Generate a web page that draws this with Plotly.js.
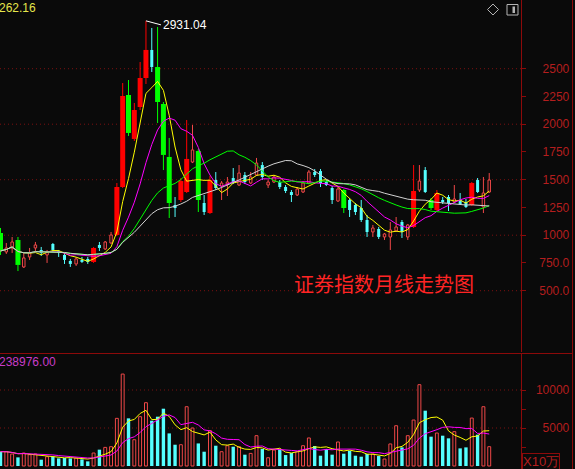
<!DOCTYPE html>
<html><head><meta charset="utf-8">
<script src="https://cdn.plot.ly/plotly-3.0.1.min.js"></script>
<style>html,body{margin:0;padding:0;background:#0a0a0a;overflow:hidden}#c{width:575px;height:469px}</style>
</head><body><div id="c"></div>
<script>
// ---- data (monthly index K-line) ----
const open = [1020,849,885,957,714,804,885,867,822,921,
  858,822,768,741,777,786,759,912,876,930,
  1002,1434,2263,1867,2155,2416,2669,2515,2182,1705,
  1272,1317,1389,1659,1759,1290,1200,1497,1443,1461,
  1515,1452,1542,1470,1542,1632,1452,1479,1479,1434,
  1389,1362,1389,1470,1569,1578,1479,1425,1308,1407,
  1317,1272,1245,1137,1029,1056,984,984,1038,1119,
  984,1074,1407,1587,1317,1227,1317,1344,1299,1317,
  1299,1272,1497,1254,1389];
const high = [1065,930,984,984,840,885,939,894,867,930,
  867,840,786,804,804,804,894,939,948,1029,
  1470,2371,2398,2191,2560,2931.04,2867,2876,2200,1876,
  1344,1515,2038,1993,1777,1362,1533,1569,1488,1524,
  1605,1632,1569,1569,1696,1659,1497,1542,1497,1452,
  1407,1434,1488,1587,1596,1596,1497,1443,1443,1416,
  1335,1290,1317,1182,1092,1074,1020,1119,1164,1137,
  1101,1632,1632,1614,1335,1407,1344,1362,1452,1380,
  1326,1479,1515,1524,1560];
const low = [822,831,840,677,705,777,849,813,750,849,
  804,741,714,723,750,741,750,858,867,921,
  993,1425,1894,1849,2128,2362,2470,2011,1587,1155,
  1164,1299,1380,1650,1209,1182,1191,1407,1317,1353,
  1461,1443,1461,1461,1533,1497,1425,1470,1416,1380,
  1299,1353,1380,1461,1524,1434,1443,1281,1299,1200,
  1164,1182,1119,984,984,966,957,867,1029,975,
  957,1065,1389,1380,1227,1218,1281,1218,1290,1272,
  1245,1263,1380,1200,1380];
const close = [858,885,939,732,795,840,912,840,849,867,
  840,777,741,786,759,759,885,885,939,1002,
  1434,2254,1921,2128,2416,2669,2515,2200,1723,1290,
  1245,1488,1687,1768,1317,1209,1497,1425,1470,1479,
  1479,1560,1479,1524,1650,1524,1479,1524,1434,1398,
  1362,1416,1470,1569,1542,1470,1452,1317,1416,1245,
  1227,1209,1137,1029,1065,984,1011,1047,1074,1029,
  1092,1398,1488,1389,1245,1380,1299,1290,1326,1281,
  1254,1470,1389,1380,1497];
const volume = [1880,1880,1580,1135,1710,1490,1580,830,1225,1265,
  1000,1050,1000,1050,870,610,1710,2150,2450,2540,
  6270,12100,6270,3460,6490,8330,5960,6490,7540,4290,
  2800,2800,7800,5000,2970,1880,4650,2670,1880,2670,
  2540,2540,1490,1660,3990,2240,1090,2100,2240,1440,
  1710,1880,2670,3690,2630,1355,2240,1490,3160,1620,
  2010,1355,1225,1580,1580,1310,920,2900,5300,2450,
  3990,6050,10700,7280,3860,4340,3990,3640,4520,2320,
  2450,6310,4120,7800,2540];
const priceTickVals = [500,750,1000,1250,1500,1750,2000,2250,2500];
const priceTickText = ['500.0','750.0','1000','1250','1500','1750','2000','2250','2500'];
const volTickVals = [2500,5000,7500,10000];
const volTickText = ['','5000','','10000'];
const priceGrid = [500,1000,1500,2000,2500];
const volGrid = [5000,10000];
const maPeriods = [5,10,20,30];
const volMaPeriods = [5,10];

// ---- styling ----
const BG = '#0a0a0a';
const AX = '#8c0a0a';
const LBL = '#b41e1e';
const FONT = 'Liberation Sans, Arial, sans-serif';
const W = 575, H = 469;

function ma(a, n) {
  return a.map((_, i) => {
    const s = Math.max(0, i - n + 1); let t = 0;
    for (let k = s; k <= i; k++) t += a[k];
    return t / (i - s + 1);
  });
}
const idx = close.map((_, i) => i);
const isUp = i => close[i] >= open[i];
const isBig = i => Math.abs(close[i] / (i > 0 ? close[i - 1] : open[0]) - 1) >= 0.10;

const groups = [
  {sel: i => isUp(i) && isBig(i), width: 0.86, fill: '#ff0000', line: '#ff0000', lw: 0, wick: '#ff0000'},
  {sel: i => isUp(i) && !isBig(i), width: 0.42, fill: BG, line: '#f04848', lw: 1, wick: '#f04848'},
  {sel: i => !isUp(i) && isBig(i), width: 0.86, fill: '#00ff00', line: '#00ff00', lw: 0, wick: '#00ff00'},
  {sel: i => !isUp(i) && !isBig(i), width: 0.52, fill: '#54ffff', line: '#54ffff', lw: 0, wick: '#54ffff'}
];

const traces = [];
groups.forEach(g => {
  const ids = idx.filter(g.sel);
  const wx = [], wy = [];
  ids.forEach(i => {
    const top = Math.max(open[i], close[i]), bot = Math.min(open[i], close[i]);
    wx.push(i, i, null, i, i, null);
    wy.push(high[i], top, null, bot, low[i], null);
  });
  traces.push({type: 'scatter', mode: 'lines', x: wx, y: wy, xaxis: 'x', yaxis: 'y',
    line: {color: g.wick, width: 1}, hoverinfo: 'skip', connectgaps: false});
  traces.push({type: 'bar', x: ids,
    base: ids.map(i => Math.min(open[i], close[i])),
    y: ids.map(i => Math.max(Math.abs(close[i] - open[i]), 9)),
    width: g.width, xaxis: 'x', yaxis: 'y',
    marker: {color: g.fill, line: {color: g.line, width: g.lw}}, hoverinfo: 'skip'});
});

const maColors = ['#ffff00', '#ff00ff', '#00ff00', '#d2d2d2'];
maPeriods.forEach((n, k) => {
  traces.push({type: 'scatter', mode: 'lines', x: idx, y: ma(close, n), xaxis: 'x', yaxis: 'y',
    line: {color: maColors[k], width: 1}, hoverinfo: 'skip'});
});

// volume
const upIds = idx.filter(i => isUp(i)), dnIds = idx.filter(i => !isUp(i));
traces.push({type: 'bar', x: upIds, y: upIds.map(i => volume[i]), width: 0.5, xaxis: 'x', yaxis: 'y2',
  marker: {color: BG, line: {color: '#f04848', width: 1}}, hoverinfo: 'skip'});
traces.push({type: 'bar', x: dnIds, y: dnIds.map(i => volume[i]), width: 0.58, xaxis: 'x', yaxis: 'y2',
  marker: {color: '#54ffff', line: {width: 0}}, hoverinfo: 'skip'});
const volMaColors = ['#ffff00', '#ff00ff'];
volMaPeriods.forEach((n, k) => {
  traces.push({type: 'scatter', mode: 'lines', x: idx, y: ma(volume, n), xaxis: 'x', yaxis: 'y2',
    line: {color: volMaColors[k], width: 1}, hoverinfo: 'skip'});
});
// label-only axes need a (non-drawing) trace to exist
traces.push({type: 'scatter', mode: 'none', x: [0], y: [close[0]], xaxis: 'x', yaxis: 'y3', hoverinfo: 'skip'});
traces.push({type: 'scatter', mode: 'none', x: [0], y: [volume[0]], xaxis: 'x', yaxis: 'y4', hoverinfo: 'skip'});

const px = x => x / W, py = y => 1 - y / H;
const shapes = [];
priceGrid.forEach(v => shapes.push({type: 'line', xref: 'x domain', x0: 0, x1: 1, yref: 'y', y0: v, y1: v,
  line: {color: '#7a1010', width: 1, dash: '1px,3px'}, layer: 'below'}));
volGrid.forEach(v => shapes.push({type: 'line', xref: 'x domain', x0: 0, x1: 1, yref: 'y2', y0: v, y1: v,
  line: {color: '#7a1010', width: 1, dash: '1px,3px'}, layer: 'below'}));
// frame lines
shapes.push({type: 'line', xref: 'paper', yref: 'paper', x0: 0, x1: px(572.5), y0: py(353.5), y1: py(353.5), line: {color: AX, width: 1}});
shapes.push({type: 'line', xref: 'paper', yref: 'paper', x0: px(572.5), x1: px(572.5), y0: 0, y1: 1, line: {color: AX, width: 1}});
// icons
shapes.push({type: 'path', xref: 'paper', yref: 'paper',
  path: `M ${px(493)} ${py(4)} L ${px(498.5)} ${py(9.5)} L ${px(493)} ${py(15)} L ${px(487.5)} ${py(9.5)} Z`,
  line: {color: '#b4b4b4', width: 1}});
shapes.push({type: 'rect', xref: 'paper', yref: 'paper', x0: px(507), x1: px(518), y0: py(15), y1: py(4.5),
  line: {color: '#b4b4b4', width: 1}});
shapes.push({type: 'rect', xref: 'paper', yref: 'paper', x0: px(512.5), x1: px(515), y0: py(13), y1: py(6.5),
  line: {color: '#b4b4b4', width: 0}, fillcolor: '#b4b4b4'});

const annotations = [
  {xref: 'paper', yref: 'paper', x: px(-3), y: py(8), xanchor: 'left', yanchor: 'middle', showarrow: false,
    text: '262.16', font: {family: FONT, size: 12, color: '#e6e64c'}},
  {xref: 'paper', yref: 'paper', x: px(-3), y: py(361.5), xanchor: 'left', yanchor: 'middle', showarrow: false,
    text: '238976.00', font: {family: FONT, size: 12, color: '#c83cc8'}},
  {xref: 'x', yref: 'y', x: 25, y: high[25], text: high[25].toFixed(2), showarrow: true, arrowhead: 0,
    arrowwidth: 1, arrowcolor: '#ffffff', ax: 15, ay: 4, xanchor: 'left', yanchor: 'middle',
    font: {family: FONT, size: 12, color: '#ffffff'}},
  {xref: 'paper', yref: 'paper', x: px(384), y: py(283), xanchor: 'center', yanchor: 'middle', showarrow: false,
    text: '证券指数月线走势图', font: {family: 'Noto Sans CJK SC', size: 20, color: '#ff2424'}},
  {xref: 'paper', yref: 'paper', x: px(540.5), y: py(461), xanchor: 'center', yanchor: 'middle', showarrow: false,
    text: 'X10万', bordercolor: AX, borderwidth: 1, borderpad: 0,
    font: {family: FONT, size: 13, color: LBL}}
];

const layout = {
  width: W, height: H, margin: {l: 0, r: 0, t: 0, b: 0},
  paper_bgcolor: BG, plot_bgcolor: BG, showlegend: false, barmode: 'overlay', dragmode: false,
  xaxis: {domain: [0, 521 / W], range: [-0.086, 89.46], showgrid: false, zeroline: false,
    showticklabels: false, ticks: '', showline: false, fixedrange: true},
  yaxis: {domain: [1 - 352 / H, 1], range: [-52.3, 3118.9], side: 'right', anchor: 'x',
    showline: true, linecolor: AX, linewidth: 1, ticks: 'outside', ticklen: 4, tickcolor: AX,
    tickvals: priceTickVals, showticklabels: false, showgrid: false, zeroline: false, fixedrange: true},
  yaxis3: {overlaying: 'y', range: [-52.3, 3118.9], side: 'left', anchor: 'free', position: 0.99,
    tickvals: priceTickVals, ticktext: priceTickText, ticks: '', showline: false, showgrid: false,
    zeroline: false, tickfont: {family: FONT, size: 12, color: LBL}, fixedrange: true},
  yaxis2: {domain: [0, 1 - 354 / H], range: [-395, 14739], side: 'right', anchor: 'x',
    showline: true, linecolor: AX, linewidth: 1, ticks: 'outside', ticklen: 4, tickcolor: AX,
    tickvals: volTickVals, showticklabels: false, showgrid: false, zeroline: false, fixedrange: true},
  yaxis4: {overlaying: 'y2', range: [-395, 14739], side: 'left', anchor: 'free', position: 0.99,
    tickvals: volTickVals, ticktext: volTickText, ticks: '', showline: false, showgrid: false,
    zeroline: false, tickfont: {family: FONT, size: 12, color: LBL}, fixedrange: true},
  shapes: shapes, annotations: annotations
};
Plotly.newPlot('c', traces, layout, {displayModeBar: false, staticPlot: true});
</script></body></html>
